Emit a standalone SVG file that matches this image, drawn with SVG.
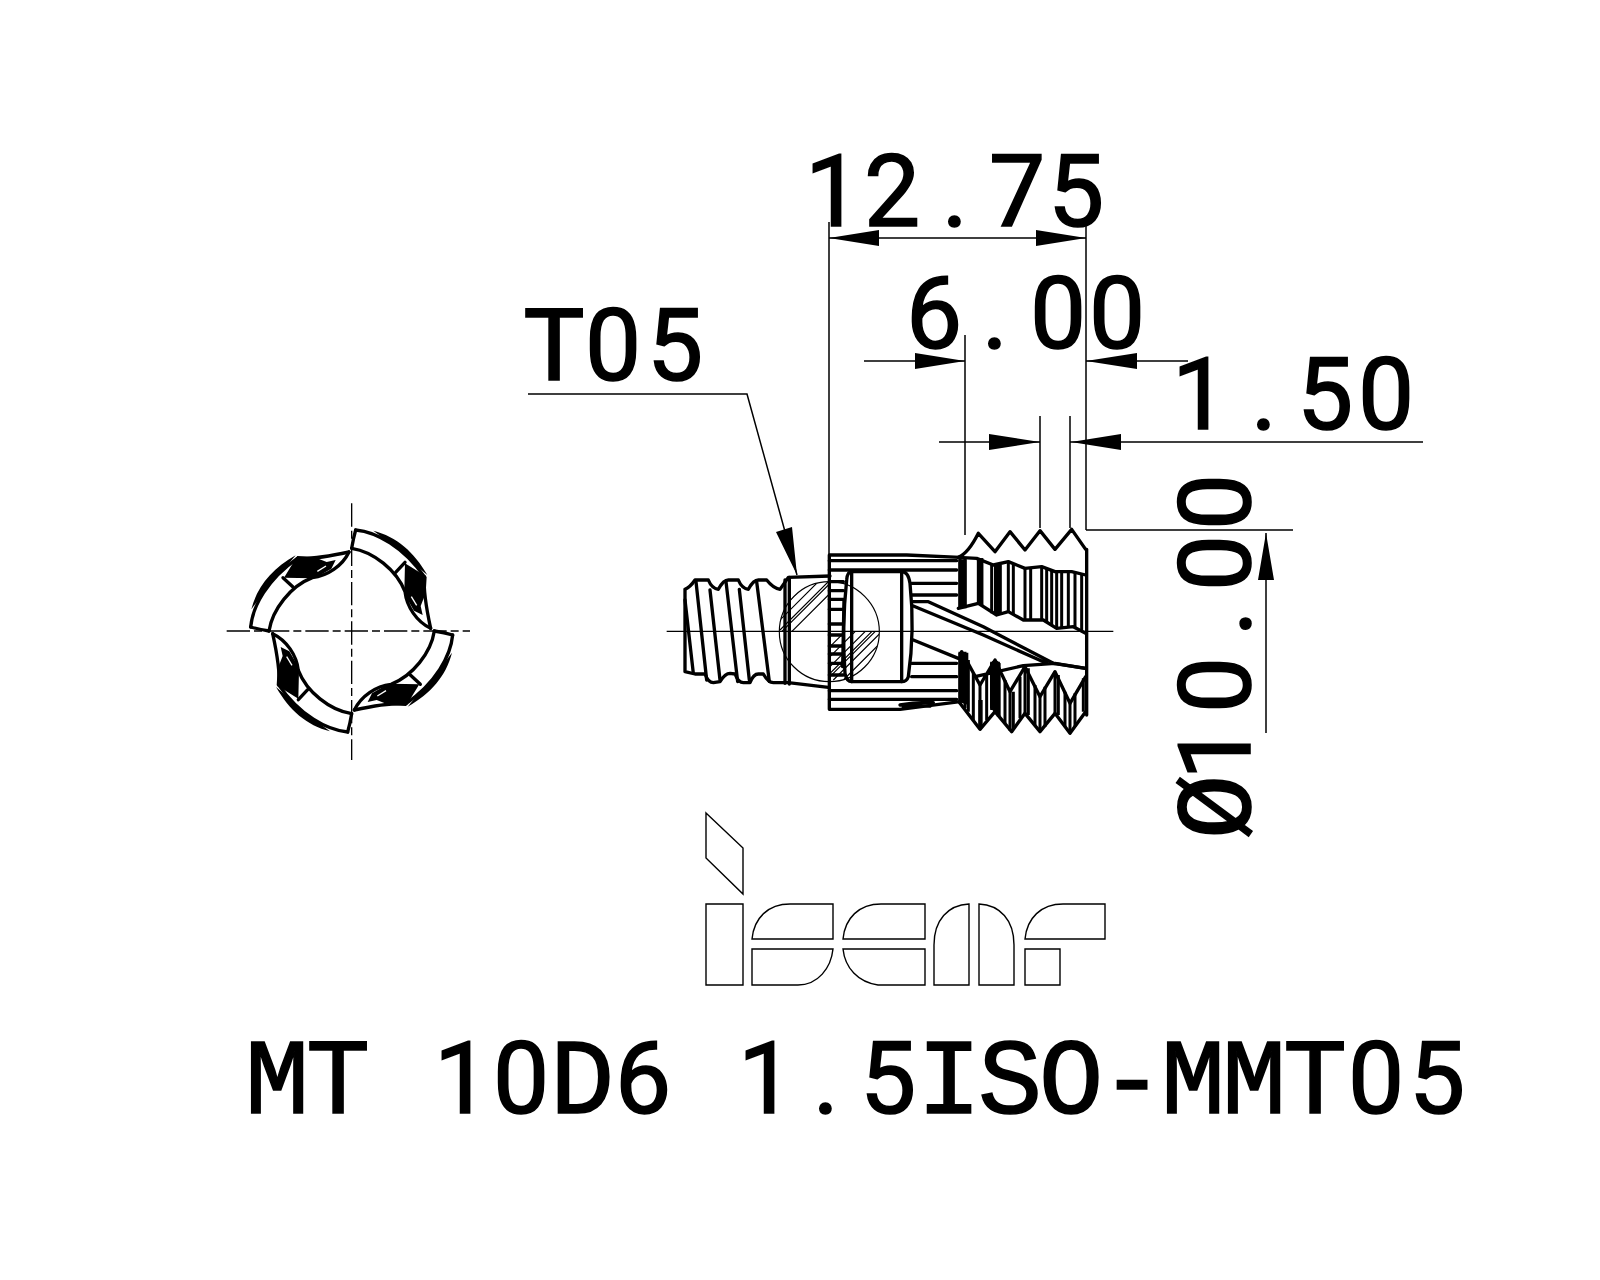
<svg xmlns="http://www.w3.org/2000/svg" xmlns:xlink="http://www.w3.org/1999/xlink" width="1600" height="1280" viewBox="0 0 1600 1280">
<style>
.t{font-family:Roboto,"Liberation Sans",sans-serif;font-size:100px;fill:#000;stroke:#000;stroke-width:1.6;text-anchor:middle}
.g{font-family:"Liberation Mono",monospace;font-size:107px}
.d{stroke:#000;stroke-width:1.5;fill:none}
.a{fill:#000;stroke:none}
.k{stroke:#000;stroke-width:10;fill:none;stroke-linejoin:round;stroke-linecap:round}
.v{stroke:#000;stroke-width:9;fill:none;stroke-linecap:butt}
.h{stroke:#000;stroke-width:3.5;fill:none}
.l{stroke:#000;stroke-width:1.4;fill:none}
</style>
<defs>
<clipPath id="q1"><path d="M568 395V245A150 150 0 0 0 418 395Z"/></clipPath>
<clipPath id="q2"><path d="M568 395V545A150 150 0 0 0 718 395Z"/></clipPath>
<path id="hat" d="M400 380L560 220M400 420L600 220M400 350L530 220M420 390L590 220M440 410L620 230M560 400L400 560M580 540L730 390M550 540L700 390M610 540L740 410M640 540L750 430M570 500L680 390M570 470L650 390M570 440L620 390M570 530L720 380"/>
<g id="tooth">
<path d="M437 150Q430 175 425 205" class="k"/>
<path d="M437 150C500 156 580 200 643 290" class="k"/>
<path class="a" d="M490 152C560 170 612 215 652 285L620 258C580 215 540 190 490 152Z"/>
<path d="M425 205C490 215 560 270 585 335C590 380 620 425 662 445" class="k"/>
<path d="M643 290C640 330 650 390 662 445" class="k"/>
<path d="M557 277L585 247" class="k"/>
<path class="a" d="M585 250L650 290L647 340L632 378L638 405L612 392L592 358L583 335Z"/>
<path d="M604 350L620 376" stroke="#fff" stroke-width="4" fill="none"/>
</g>
</defs>

<g id="end-view" transform="translate(210 480) scale(.33333)">
<path d="M425 70V840M50 453H780" stroke="#000" stroke-width="4" fill="none" stroke-dasharray="70 12 24 12"/>
<use xlink:href="#tooth"/>
<use xlink:href="#tooth" transform="rotate(90 425 453)"/>
<use xlink:href="#tooth" transform="rotate(180 425 453)"/>
<use xlink:href="#tooth" transform="rotate(270 425 453)"/>
</g>

<g id="side-view" transform="translate(640 500) scale(.33333)">
<path d="M80 394H1420" class="h" stroke-width="4"/>
<circle cx="568" cy="395" r="150" class="h"/>
<use xlink:href="#hat" class="h" clip-path="url(#q1)"/>
<use xlink:href="#hat" class="h" clip-path="url(#q2)"/>
<path class="k" d="M135 268Q150 262 165 240L205 240Q215 265 235 268Q250 240 265 240L295 240Q305 265 325 268Q340 240 355 240L380 240Q400 265 420 268L445 232L570 228M135 268V515L165 522H195Q205 548 220 548L240 545Q255 520 270 520L285 522Q295 548 310 548H330Q340 522 355 522H370Q385 548 400 548H445L565 562"/>
<path class="k" stroke-width="7" d="M168 245L200 540M210 270L240 540M258 245L293 545M298 268L328 540M350 245L388 545M135 300L160 520M435 240V550M448 232V552"/>
<path class="k" d="M568 165H800L960 172M568 628H780L960 605M568 165V628"/>
<path class="k" d="M568 182H950M568 210H950M568 572H950M568 598H950M815 250H950M815 285H950M815 490H950M815 530H950M568 245H610M568 272H610M568 298H610M568 328H610M568 372H610M568 405H610M568 438H610M568 462H610M568 490H610M568 525H610"/>
<path class="k" fill="#fff" d="M635 215H785Q805 215 810 250Q825 390 805 530Q800 545 785 545H635Q620 545 615 520Q605 380 620 240Q622 215 635 215Z"/>
<path class="k" d="M635 215V545M785 215V545M612 300L608 500"/>
<path class="k" d="M820 305H865L1030 380L1240 490L1337 505M820 318L1030 405L1220 490M820 420L955 475M1340 148V645"/>
<path class="k" d="M955 172Q985 160 1015 100L1065 155L1110 95L1155 150L1200 92L1245 148L1295 88L1337 148"/>
<path class="k" d="M955 325L1015 310L1070 345L1105 335L1150 360L1210 360L1250 385L1300 380L1337 400M955 172L1010 175L1060 195L1105 185L1155 205L1205 200L1245 215L1295 215L1337 225"/>
<path class="k" d="M960 610L1020 688L1065 635L1115 695L1155 640L1200 695L1245 640L1290 700L1337 635M965 455L1020 555L1065 480L1110 575L1155 500L1200 590L1245 515L1290 610L1337 530M1005 530L1150 497L1245 490L1337 505"/>
<path class="v" d="M960 175V325M975 175V320M1015 175V310M1025 175V318M1055 195V340M1070 195V345M1080 195V340M1105 185V335M1120 190V342M1155 205V360M1172 205V360M1205 200V360M1220 205V368M1235 212V378M1250 215V385M1265 215V383M1285 215V380M1305 218V385M1325 222V395"/>
<path class="a" d="M955 178H980V325H955ZM1012 175H1030V315H1012ZM1062 195H1085V345H1062Z"/>
<path class="v" d="M960 455V612M975 455V625M985 480V635M1000 520V660M1020 555V688M1040 520V660M1055 485V630M1065 480V640M1075 485V650M1095 540V670M1110 575V692M1120 575V690M1140 530V655M1155 500V640M1165 505V645M1185 555V675M1200 590V695M1215 560V680M1245 515V640M1255 525V645M1275 575V680M1290 610V700M1305 580V680M1330 535V635"/>
<path class="a" d="M955 458H985V615L955 605ZM1050 490L1065 478L1082 490V650L1050 625ZM1015 600H1028V685H1015Z"/>
<path class="k" stroke-width="5" d="M780 615Q830 605 880 608M790 622Q840 615 870 618"/>
</g>

<g id="dimensions">
<path class="d" d="M829 222V554M1086 225V530M965 335V535M1040 416V528M1070 416V528M829 238H1086M864 361H965M1086 361H1188M939 442H1040M1070 442H1423M1086 530H1293M1266 533V733M528 394H747L797 575"/>
<path class="a" d="M829 238L879 230V246ZM1086 238L1036 230V246ZM965 361L915 353V369ZM1086 361L1137 353V369ZM1040 442L989 434V450ZM1071 442L1121 434V450ZM1266 533L1258 580H1274ZM797 575L776 532L792 527Z"/>
</g>

<g id="labels">
<text class="t" x="833 892 955 1017 1076" y="226">12.75</text>
<text class="t" x="934 995 1058 1117" y="348">6.00</text>
<text class="t" x="1200 1264 1325 1386" y="429">1.50</text>
<text class="t" y="380"><tspan class="g" x="554">T</tspan><tspan x="613 675">05</tspan></text>
<text class="t" transform="translate(1250 838) rotate(-90)"><tspan class="g" x="31">Ø</tspan><tspan x="86 153 215 275 336">10.00</tspan></text>
<text class="t" y="1113"><tspan class="g" x="277 338">MT</tspan><tspan x="462 521">10</tspan><tspan class="g" x="582">D</tspan><tspan x="643 766 826 888">61.5</tspan><tspan class="g" x="949 1010 1071 1132 1193 1254 1315">ISO-MMT</tspan><tspan x="1376 1437">05</tspan></text>
</g>

<g id="logo" class="l">
<path d="M706 813L743 848V894L706 858Z"/>
<path d="M706 904H743V985H706Z"/>
<path d="M752 939C754 918 768 904 790 904H833V939ZM752 949H833C831 968 818 985 798 985H752Z"/>
<path d="M843 939C845 918 859 904 881 904H925V939ZM843 949H925V985H878C858 982 845 968 843 949Z"/>
<path d="M969 904C948 905 934 920 934 945V985H969ZM979 904C1000 905 1014 920 1014 945V985H979Z"/>
<path d="M1025 939C1027 918 1041 904 1063 904H1105V939ZM1025 949H1060V985H1025Z"/>
</g>
</svg>
